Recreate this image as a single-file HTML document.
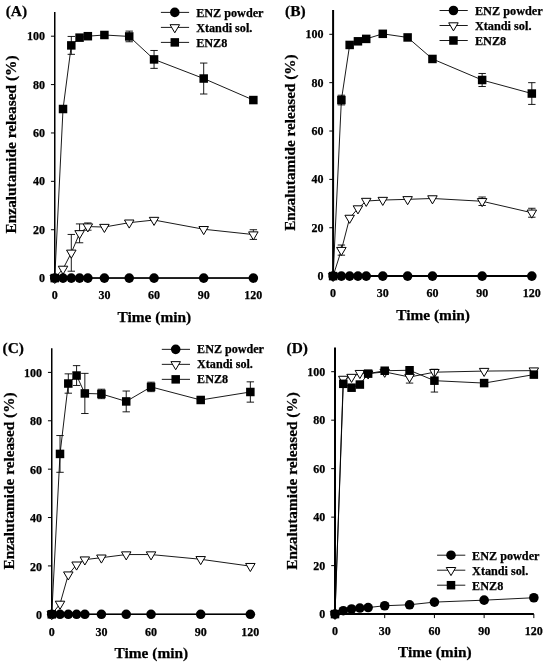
<!DOCTYPE html>
<html lang="en"><head><meta charset="utf-8"><title>Enzalutamide release profiles</title>
<style>
html,body{margin:0;padding:0;background:#fff}
svg{display:block}
svg text{font-family:"Liberation Serif",serif;font-weight:bold;fill:#000;stroke:#000;stroke-width:.25px}
</style></head><body>
<svg width="550" height="665" viewBox="0 0 550 665">
<rect width="550" height="665" fill="#fff"/>
<g id="panelA">
<path d="M54.75 12.01V278.1H253.35" stroke="#000" stroke-width="1.5" fill="none" stroke-linecap="butt" stroke-linejoin="miter"/>
<path d="M50.95 278.1h3.8M50.95 229.72h3.8M50.95 181.34h3.8M50.95 132.96h3.8M50.95 84.58h3.8M50.95 36.2h3.8M54.75 278.1v4M104.4 278.1v4M154.05 278.1v4M203.7 278.1v4M253.35 278.1v4" stroke="#000" stroke-width="1" fill="none"/>
<text x="45.05" y="282.2" text-anchor="end" font-size="12">0</text>
<text x="45.05" y="233.82" text-anchor="end" font-size="12">20</text>
<text x="45.05" y="185.44" text-anchor="end" font-size="12">40</text>
<text x="45.05" y="137.06" text-anchor="end" font-size="12">60</text>
<text x="45.05" y="88.68" text-anchor="end" font-size="12">80</text>
<text x="45.05" y="40.3" text-anchor="end" font-size="12">100</text>
<text x="54.75" y="299.4" text-anchor="middle" font-size="12">0</text>
<text x="104.4" y="299.4" text-anchor="middle" font-size="12">30</text>
<text x="154.05" y="299.4" text-anchor="middle" font-size="12">60</text>
<text x="203.7" y="299.4" text-anchor="middle" font-size="12">90</text>
<text x="253.35" y="299.4" text-anchor="middle" font-size="12">120</text>
<text x="154.35" y="321.5" text-anchor="middle" font-size="15.4">Time (min)</text>
<text transform="translate(16.45 144.46) rotate(-90)" text-anchor="middle" font-size="15.37">Enzalutamide released (%)</text>
<text x="5.7" y="15.8" font-size="15.4">(A)</text>
<polyline points="54.75,278.1 63.02,278.1 71.3,278.1 79.58,278.1 87.85,278.1 104.4,278.1 129.22,278.1 154.05,278.1 203.7,278.1 253.35,278.1" stroke="#000" stroke-width="0.9" fill="none"/>
<circle cx="54.75" cy="278.1" r="4.8" fill="#000"/>
<circle cx="63.02" cy="278.1" r="4.8" fill="#000"/>
<circle cx="71.3" cy="278.1" r="4.8" fill="#000"/>
<circle cx="79.58" cy="278.1" r="4.8" fill="#000"/>
<circle cx="87.85" cy="278.1" r="4.8" fill="#000"/>
<circle cx="104.4" cy="278.1" r="4.8" fill="#000"/>
<circle cx="129.22" cy="278.1" r="4.8" fill="#000"/>
<circle cx="154.05" cy="278.1" r="4.8" fill="#000"/>
<circle cx="203.7" cy="278.1" r="4.8" fill="#000"/>
<circle cx="253.35" cy="278.1" r="4.8" fill="#000"/>
<polyline points="54.75,278.1 63.02,268.91 71.3,252.82 79.58,233.35 87.85,226.58 104.4,227.06 129.22,222.7 154.05,220.04 203.7,229.24 253.35,234.56" stroke="#000" stroke-width="0.9" fill="none"/>
<path d="M71.3 234.44V271.21M67.6 234.44h7.4M67.6 271.21h7.4" stroke="#000" stroke-width="0.9" fill="none"/>
<path d="M79.58 223.91V242.78M75.88 223.91h7.4M75.88 242.78h7.4" stroke="#000" stroke-width="0.9" fill="none"/>
<path d="M87.85 222.95V230.2M84.15 222.95h7.4M84.15 230.2h7.4" stroke="#000" stroke-width="0.9" fill="none"/>
<path d="M253.35 229.72V239.4M249.65 229.72h7.4M249.65 239.4h7.4" stroke="#000" stroke-width="0.9" fill="none"/>
<path d="M50 275.4H59.5L54.75 283.5Z" fill="#fff" stroke="#000" stroke-width="1"/>
<path d="M58.27 266.21H67.78L63.02 274.31Z" fill="#fff" stroke="#000" stroke-width="1"/>
<path d="M66.55 250.12H76.05L71.3 258.22Z" fill="#fff" stroke="#000" stroke-width="1"/>
<path d="M74.83 230.65H84.33L79.58 238.75Z" fill="#fff" stroke="#000" stroke-width="1"/>
<path d="M83.1 223.88H92.6L87.85 231.98Z" fill="#fff" stroke="#000" stroke-width="1"/>
<path d="M99.65 224.36H109.15L104.4 232.46Z" fill="#fff" stroke="#000" stroke-width="1"/>
<path d="M124.47 220H133.97L129.22 228.1Z" fill="#fff" stroke="#000" stroke-width="1"/>
<path d="M149.3 217.34H158.8L154.05 225.44Z" fill="#fff" stroke="#000" stroke-width="1"/>
<path d="M198.95 226.54H208.45L203.7 234.64Z" fill="#fff" stroke="#000" stroke-width="1"/>
<path d="M248.6 231.86H258.1L253.35 239.96Z" fill="#fff" stroke="#000" stroke-width="1"/>
<polyline points="54.75,278.1 63.02,109.01 71.3,45.39 79.58,37.65 87.85,36.2 104.4,34.99 129.22,36.44 154.05,59.42 203.7,78.53 253.35,100.06" stroke="#000" stroke-width="0.9" fill="none"/>
<path d="M71.3 36.44V54.34M67.6 36.44h7.4M67.6 54.34h7.4" stroke="#000" stroke-width="0.9" fill="none"/>
<path d="M129.22 31.12V41.76M125.52 31.12h7.4M125.52 41.76h7.4" stroke="#000" stroke-width="0.9" fill="none"/>
<path d="M154.05 50.47V68.37M150.35 50.47h7.4M150.35 68.37h7.4" stroke="#000" stroke-width="0.9" fill="none"/>
<path d="M203.7 63.05V94.01M200 63.05h7.4M200 94.01h7.4" stroke="#000" stroke-width="0.9" fill="none"/>
<rect x="50.5" y="273.85" width="8.5" height="8.5" fill="#000"/>
<rect x="58.77" y="104.76" width="8.5" height="8.5" fill="#000"/>
<rect x="67.05" y="41.14" width="8.5" height="8.5" fill="#000"/>
<rect x="75.33" y="33.4" width="8.5" height="8.5" fill="#000"/>
<rect x="83.6" y="31.95" width="8.5" height="8.5" fill="#000"/>
<rect x="100.15" y="30.74" width="8.5" height="8.5" fill="#000"/>
<rect x="124.97" y="32.19" width="8.5" height="8.5" fill="#000"/>
<rect x="149.8" y="55.17" width="8.5" height="8.5" fill="#000"/>
<rect x="199.45" y="74.28" width="8.5" height="8.5" fill="#000"/>
<rect x="249.1" y="95.81" width="8.5" height="8.5" fill="#000"/>
<path d="M160.9 12.4h28.2" stroke="#000" stroke-width="0.9"/>
<circle cx="174.8" cy="12.4" r="4.8" fill="#000"/>
<text x="196.2" y="17" font-size="12.18">ENZ powder</text>
<path d="M160.9 27.4h28.2" stroke="#000" stroke-width="0.9"/>
<path d="M170.05 24.7H179.55L174.8 32.8Z" fill="#fff" stroke="#000" stroke-width="1"/>
<text x="196.2" y="31.9" font-size="12.18">Xtandi sol.</text>
<path d="M160.9 42.4h28.2" stroke="#000" stroke-width="0.9"/>
<rect x="170.55" y="38.15" width="8.5" height="8.5" fill="#000"/>
<text x="196.2" y="46.8" font-size="12.18">ENZ8</text>
</g>
<g id="panelB">
<path d="M333.1 10.12V276.1H531.82" stroke="#000" stroke-width="2" fill="none" stroke-linecap="butt" stroke-linejoin="miter"/>
<path d="M329.3 276.1h3.8M329.3 227.74h3.8M329.3 179.38h3.8M329.3 131.02h3.8M329.3 82.66h3.8M329.3 34.3h3.8M333.1 276.1v4M382.78 276.1v4M432.46 276.1v4M482.14 276.1v4M531.82 276.1v4" stroke="#000" stroke-width="1" fill="none"/>
<text x="323.4" y="280.2" text-anchor="end" font-size="12">0</text>
<text x="323.4" y="231.84" text-anchor="end" font-size="12">20</text>
<text x="323.4" y="183.48" text-anchor="end" font-size="12">40</text>
<text x="323.4" y="135.12" text-anchor="end" font-size="12">60</text>
<text x="323.4" y="86.76" text-anchor="end" font-size="12">80</text>
<text x="323.4" y="38.4" text-anchor="end" font-size="12">100</text>
<text x="333.1" y="297.4" text-anchor="middle" font-size="12">0</text>
<text x="382.78" y="297.4" text-anchor="middle" font-size="12">30</text>
<text x="432.46" y="297.4" text-anchor="middle" font-size="12">60</text>
<text x="482.14" y="297.4" text-anchor="middle" font-size="12">90</text>
<text x="531.82" y="297.4" text-anchor="middle" font-size="12">120</text>
<text x="433.06" y="319.5" text-anchor="middle" font-size="15.4">Time (min)</text>
<text transform="translate(294.8 142.61) rotate(-90)" text-anchor="middle" font-size="15.23">Enzalutamide released (%)</text>
<text x="285" y="16" font-size="15.4">(B)</text>
<polyline points="333.1,276.1 341.38,276.1 349.66,276.1 357.94,276.1 366.22,276.1 382.78,276.1 407.62,276.1 432.46,276.1 482.14,276.1 531.82,276.1" stroke="#000" stroke-width="0.9" fill="none"/>
<circle cx="333.1" cy="276.1" r="4.8" fill="#000"/>
<circle cx="341.38" cy="276.1" r="4.8" fill="#000"/>
<circle cx="349.66" cy="276.1" r="4.8" fill="#000"/>
<circle cx="357.94" cy="276.1" r="4.8" fill="#000"/>
<circle cx="366.22" cy="276.1" r="4.8" fill="#000"/>
<circle cx="382.78" cy="276.1" r="4.8" fill="#000"/>
<circle cx="407.62" cy="276.1" r="4.8" fill="#000"/>
<circle cx="432.46" cy="276.1" r="4.8" fill="#000"/>
<circle cx="482.14" cy="276.1" r="4.8" fill="#000"/>
<circle cx="531.82" cy="276.1" r="4.8" fill="#000"/>
<polyline points="333.1,276.1 341.38,250.11 349.66,217.95 357.94,208.52 366.22,201.02 382.78,200.05 407.62,199.33 432.46,198.48 482.14,201.26 531.82,212.75" stroke="#000" stroke-width="0.9" fill="none"/>
<path d="M341.38 245.03V255.18M337.68 245.03h7.4M337.68 255.18h7.4" stroke="#000" stroke-width="0.9" fill="none"/>
<path d="M482.14 197.03V205.49M478.44 197.03h7.4M478.44 205.49h7.4" stroke="#000" stroke-width="0.9" fill="none"/>
<path d="M531.82 208.28V217.22M528.12 208.28h7.4M528.12 217.22h7.4" stroke="#000" stroke-width="0.9" fill="none"/>
<path d="M328.35 273.4H337.85L333.1 281.5Z" fill="#fff" stroke="#000" stroke-width="1"/>
<path d="M336.63 247.41H346.13L341.38 255.51Z" fill="#fff" stroke="#000" stroke-width="1"/>
<path d="M344.91 215.25H354.41L349.66 223.35Z" fill="#fff" stroke="#000" stroke-width="1"/>
<path d="M353.19 205.82H362.69L357.94 213.92Z" fill="#fff" stroke="#000" stroke-width="1"/>
<path d="M361.47 198.32H370.97L366.22 206.42Z" fill="#fff" stroke="#000" stroke-width="1"/>
<path d="M378.03 197.35H387.53L382.78 205.45Z" fill="#fff" stroke="#000" stroke-width="1"/>
<path d="M402.87 196.63H412.37L407.62 204.73Z" fill="#fff" stroke="#000" stroke-width="1"/>
<path d="M427.71 195.78H437.21L432.46 203.88Z" fill="#fff" stroke="#000" stroke-width="1"/>
<path d="M477.39 198.56H486.89L482.14 206.66Z" fill="#fff" stroke="#000" stroke-width="1"/>
<path d="M527.07 210.05H536.57L531.82 218.15Z" fill="#fff" stroke="#000" stroke-width="1"/>
<polyline points="333.1,276.1 341.38,100.07 349.66,44.94 357.94,41.31 366.22,38.89 382.78,33.82 407.62,37.44 432.46,58.96 482.14,80 531.82,93.54" stroke="#000" stroke-width="0.9" fill="none"/>
<path d="M341.38 95.23V104.91M337.68 95.23h7.4M337.68 104.91h7.4" stroke="#000" stroke-width="0.9" fill="none"/>
<path d="M482.14 73.47V86.53M478.44 73.47h7.4M478.44 86.53h7.4" stroke="#000" stroke-width="0.9" fill="none"/>
<path d="M531.82 82.66V104.42M528.12 82.66h7.4M528.12 104.42h7.4" stroke="#000" stroke-width="0.9" fill="none"/>
<rect x="328.85" y="271.85" width="8.5" height="8.5" fill="#000"/>
<rect x="337.13" y="95.82" width="8.5" height="8.5" fill="#000"/>
<rect x="345.41" y="40.69" width="8.5" height="8.5" fill="#000"/>
<rect x="353.69" y="37.06" width="8.5" height="8.5" fill="#000"/>
<rect x="361.97" y="34.64" width="8.5" height="8.5" fill="#000"/>
<rect x="378.53" y="29.57" width="8.5" height="8.5" fill="#000"/>
<rect x="403.37" y="33.19" width="8.5" height="8.5" fill="#000"/>
<rect x="428.21" y="54.71" width="8.5" height="8.5" fill="#000"/>
<rect x="477.89" y="75.75" width="8.5" height="8.5" fill="#000"/>
<rect x="527.57" y="89.29" width="8.5" height="8.5" fill="#000"/>
<path d="M439.55 10.5h28.2" stroke="#000" stroke-width="0.9"/>
<circle cx="453.45" cy="10.5" r="4.8" fill="#000"/>
<text x="474.9" y="15.3" font-size="12.27">ENZ powder</text>
<path d="M439.55 25.5h28.2" stroke="#000" stroke-width="0.9"/>
<path d="M448.7 22.8H458.2L453.45 30.9Z" fill="#fff" stroke="#000" stroke-width="1"/>
<text x="474.9" y="30.3" font-size="12.27">Xtandi sol.</text>
<path d="M439.55 40.5h28.2" stroke="#000" stroke-width="0.9"/>
<rect x="449.2" y="36.25" width="8.5" height="8.5" fill="#000"/>
<text x="474.9" y="45.3" font-size="12.27">ENZ8</text>
</g>
<g id="panelC">
<path d="M51.75 348.21V614.3H250.35" stroke="#000" stroke-width="1.5" fill="none" stroke-linecap="butt" stroke-linejoin="miter"/>
<path d="M47.95 614.3h3.8M47.95 565.92h3.8M47.95 517.54h3.8M47.95 469.16h3.8M47.95 420.78h3.8M47.95 372.4h3.8M51.75 614.3v4M101.4 614.3v4M151.05 614.3v4M200.7 614.3v4M250.35 614.3v4" stroke="#000" stroke-width="1" fill="none"/>
<text x="42.05" y="618.9" text-anchor="end" font-size="12">0</text>
<text x="42.05" y="570.52" text-anchor="end" font-size="12">20</text>
<text x="42.05" y="522.14" text-anchor="end" font-size="12">40</text>
<text x="42.05" y="473.76" text-anchor="end" font-size="12">60</text>
<text x="42.05" y="425.38" text-anchor="end" font-size="12">80</text>
<text x="42.05" y="377" text-anchor="end" font-size="12">100</text>
<text x="51.75" y="635.6" text-anchor="middle" font-size="12">0</text>
<text x="101.4" y="635.6" text-anchor="middle" font-size="12">30</text>
<text x="151.05" y="635.6" text-anchor="middle" font-size="12">60</text>
<text x="200.7" y="635.6" text-anchor="middle" font-size="12">90</text>
<text x="250.35" y="635.6" text-anchor="middle" font-size="12">120</text>
<text x="151.35" y="657.7" text-anchor="middle" font-size="15.4">Time (min)</text>
<text transform="translate(14.2 480.95) rotate(-90)" text-anchor="middle" font-size="15.27">Enzalutamide released (%)</text>
<text x="2.5" y="353.3" font-size="15.4">(C)</text>
<polyline points="51.75,614.3 60.02,614.3 68.3,614.3 76.58,614.3 84.85,614.3 101.4,614.3 126.22,614.3 151.05,614.3 200.7,614.3 250.35,614.3" stroke="#000" stroke-width="0.9" fill="none"/>
<circle cx="51.75" cy="614.3" r="4.8" fill="#000"/>
<circle cx="60.02" cy="614.3" r="4.8" fill="#000"/>
<circle cx="68.3" cy="614.3" r="4.8" fill="#000"/>
<circle cx="76.58" cy="614.3" r="4.8" fill="#000"/>
<circle cx="84.85" cy="614.3" r="4.8" fill="#000"/>
<circle cx="101.4" cy="614.3" r="4.8" fill="#000"/>
<circle cx="126.22" cy="614.3" r="4.8" fill="#000"/>
<circle cx="151.05" cy="614.3" r="4.8" fill="#000"/>
<circle cx="200.7" cy="614.3" r="4.8" fill="#000"/>
<circle cx="250.35" cy="614.3" r="4.8" fill="#000"/>
<polyline points="51.75,614.3 60.02,603.9 68.3,574.63 76.58,564.71 84.85,559.63 101.4,557.7 126.22,554.55 151.05,554.55 200.7,559.27 250.35,566.16" stroke="#000" stroke-width="0.9" fill="none"/>
<path d="M47 611.6H56.5L51.75 619.7Z" fill="#fff" stroke="#000" stroke-width="1"/>
<path d="M55.27 601.2H64.78L60.02 609.3Z" fill="#fff" stroke="#000" stroke-width="1"/>
<path d="M63.55 571.93H73.05L68.3 580.03Z" fill="#fff" stroke="#000" stroke-width="1"/>
<path d="M71.83 562.01H81.33L76.58 570.11Z" fill="#fff" stroke="#000" stroke-width="1"/>
<path d="M80.1 556.93H89.6L84.85 565.03Z" fill="#fff" stroke="#000" stroke-width="1"/>
<path d="M96.65 555H106.15L101.4 563.1Z" fill="#fff" stroke="#000" stroke-width="1"/>
<path d="M121.47 551.85H130.97L126.22 559.95Z" fill="#fff" stroke="#000" stroke-width="1"/>
<path d="M146.3 551.85H155.8L151.05 559.95Z" fill="#fff" stroke="#000" stroke-width="1"/>
<path d="M195.95 556.57H205.45L200.7 564.67Z" fill="#fff" stroke="#000" stroke-width="1"/>
<path d="M245.6 563.46H255.1L250.35 571.56Z" fill="#fff" stroke="#000" stroke-width="1"/>
<polyline points="51.75,614.3 60.02,453.92 68.3,383.53 76.58,375.54 84.85,393.45 101.4,393.93 126.22,401.43 151.05,386.91 200.7,399.98 250.35,391.99" stroke="#000" stroke-width="0.9" fill="none"/>
<path d="M60.02 435.54V472.3M56.32 435.54h7.4M56.32 472.3h7.4" stroke="#000" stroke-width="0.9" fill="none"/>
<path d="M68.3 373.85V393.2M64.6 373.85h7.4M64.6 393.2h7.4" stroke="#000" stroke-width="0.9" fill="none"/>
<path d="M76.58 365.63V385.46M72.88 365.63h7.4M72.88 385.46h7.4" stroke="#000" stroke-width="0.9" fill="none"/>
<path d="M84.85 373.37V413.52M81.15 373.37h7.4M81.15 413.52h7.4" stroke="#000" stroke-width="0.9" fill="none"/>
<path d="M101.4 389.21V398.65M97.7 389.21h7.4M97.7 398.65h7.4" stroke="#000" stroke-width="0.9" fill="none"/>
<path d="M126.22 391.03V411.83M122.52 391.03h7.4M122.52 411.83h7.4" stroke="#000" stroke-width="0.9" fill="none"/>
<path d="M151.05 382.2V391.63M147.35 382.2h7.4M147.35 391.63h7.4" stroke="#000" stroke-width="0.9" fill="none"/>
<path d="M250.35 381.83V402.15M246.65 381.83h7.4M246.65 402.15h7.4" stroke="#000" stroke-width="0.9" fill="none"/>
<rect x="47.5" y="610.05" width="8.5" height="8.5" fill="#000"/>
<rect x="55.77" y="449.67" width="8.5" height="8.5" fill="#000"/>
<rect x="64.05" y="379.28" width="8.5" height="8.5" fill="#000"/>
<rect x="72.33" y="371.29" width="8.5" height="8.5" fill="#000"/>
<rect x="80.6" y="389.2" width="8.5" height="8.5" fill="#000"/>
<rect x="97.15" y="389.68" width="8.5" height="8.5" fill="#000"/>
<rect x="121.97" y="397.18" width="8.5" height="8.5" fill="#000"/>
<rect x="146.8" y="382.66" width="8.5" height="8.5" fill="#000"/>
<rect x="196.45" y="395.73" width="8.5" height="8.5" fill="#000"/>
<rect x="246.1" y="387.74" width="8.5" height="8.5" fill="#000"/>
<path d="M161.8 349.35h28.2" stroke="#000" stroke-width="0.9"/>
<circle cx="175.7" cy="349.35" r="4.8" fill="#000"/>
<text x="197.1" y="353.2" font-size="12.1">ENZ powder</text>
<path d="M161.8 364.35h28.2" stroke="#000" stroke-width="0.9"/>
<path d="M170.95 361.65H180.45L175.7 369.75Z" fill="#fff" stroke="#000" stroke-width="1"/>
<text x="197.1" y="368.1" font-size="12.1">Xtandi sol.</text>
<path d="M161.8 379.35h28.2" stroke="#000" stroke-width="0.9"/>
<rect x="171.45" y="375.1" width="8.5" height="8.5" fill="#000"/>
<text x="197.1" y="383" font-size="12.1">ENZ8</text>
</g>
<g id="panelD">
<path d="M335 347.46V614.1H533.84" stroke="#000" stroke-width="2" fill="none" stroke-linecap="butt" stroke-linejoin="miter"/>
<path d="M331.2 614.1h3.8M331.2 565.62h3.8M331.2 517.14h3.8M331.2 468.66h3.8M331.2 420.18h3.8M331.2 371.7h3.8M335 614.1v4M384.71 614.1v4M434.42 614.1v4M484.13 614.1v4M533.84 614.1v4" stroke="#000" stroke-width="1" fill="none"/>
<text x="325.3" y="618.2" text-anchor="end" font-size="12">0</text>
<text x="325.3" y="569.72" text-anchor="end" font-size="12">20</text>
<text x="325.3" y="521.24" text-anchor="end" font-size="12">40</text>
<text x="325.3" y="472.76" text-anchor="end" font-size="12">60</text>
<text x="325.3" y="424.28" text-anchor="end" font-size="12">80</text>
<text x="325.3" y="375.8" text-anchor="end" font-size="12">100</text>
<text x="335" y="634.8" text-anchor="middle" font-size="12">0</text>
<text x="384.71" y="634.8" text-anchor="middle" font-size="12">30</text>
<text x="434.42" y="634.8" text-anchor="middle" font-size="12">60</text>
<text x="484.13" y="634.8" text-anchor="middle" font-size="12">90</text>
<text x="533.84" y="634.8" text-anchor="middle" font-size="12">120</text>
<text x="434.82" y="656.8" text-anchor="middle" font-size="15.4">Time (min)</text>
<text transform="translate(296.7 480.93) rotate(-90)" text-anchor="middle" font-size="15.32">Enzalutamide released (%)</text>
<text x="286.5" y="353.3" font-size="15.4">(D)</text>
<polyline points="335,614.1 343.29,610.71 351.57,609.01 359.86,608.04 368.14,607.56 384.71,605.74 409.56,604.77 434.42,602.1 484.13,600.16 533.84,597.74" stroke="#000" stroke-width="0.9" fill="none"/>
<circle cx="335" cy="614.1" r="4.8" fill="#000"/>
<circle cx="343.29" cy="610.71" r="4.8" fill="#000"/>
<circle cx="351.57" cy="609.01" r="4.8" fill="#000"/>
<circle cx="359.86" cy="608.04" r="4.8" fill="#000"/>
<circle cx="368.14" cy="607.56" r="4.8" fill="#000"/>
<circle cx="384.71" cy="605.74" r="4.8" fill="#000"/>
<circle cx="409.56" cy="604.77" r="4.8" fill="#000"/>
<circle cx="434.42" cy="602.1" r="4.8" fill="#000"/>
<circle cx="484.13" cy="600.16" r="4.8" fill="#000"/>
<circle cx="533.84" cy="597.74" r="4.8" fill="#000"/>
<polyline points="335,614.1 343.29,378.97 351.57,377.03 359.86,373.15 368.14,373.64 384.71,371.94 409.56,377.03 434.42,372.18 484.13,371.09 533.84,370.61" stroke="#000" stroke-width="0.9" fill="none"/>
<path d="M409.56 370.97V383.09M405.87 370.97h7.4M405.87 383.09h7.4" stroke="#000" stroke-width="0.9" fill="none"/>
<path d="M330.25 611.4H339.75L335 619.5Z" fill="#fff" stroke="#000" stroke-width="1"/>
<path d="M338.54 376.27H348.04L343.29 384.37Z" fill="#fff" stroke="#000" stroke-width="1"/>
<path d="M346.82 374.33H356.32L351.57 382.43Z" fill="#fff" stroke="#000" stroke-width="1"/>
<path d="M355.11 370.45H364.61L359.86 378.55Z" fill="#fff" stroke="#000" stroke-width="1"/>
<path d="M363.39 370.94H372.89L368.14 379.04Z" fill="#fff" stroke="#000" stroke-width="1"/>
<path d="M379.96 369.24H389.46L384.71 377.34Z" fill="#fff" stroke="#000" stroke-width="1"/>
<path d="M404.81 374.33H414.31L409.56 382.43Z" fill="#fff" stroke="#000" stroke-width="1"/>
<path d="M429.67 369.48H439.17L434.42 377.58Z" fill="#fff" stroke="#000" stroke-width="1"/>
<path d="M479.38 368.39H488.88L484.13 376.49Z" fill="#fff" stroke="#000" stroke-width="1"/>
<path d="M529.09 367.91H538.59L533.84 376.01Z" fill="#fff" stroke="#000" stroke-width="1"/>
<polyline points="335,614.1 343.29,383.82 351.57,387.7 359.86,384.55 368.14,373.64 384.71,370.73 409.56,370.25 434.42,380.67 484.13,383.09 533.84,374.61" stroke="#000" stroke-width="0.9" fill="none"/>
<path d="M434.42 369.28V392.06M430.72 369.28h7.4M430.72 392.06h7.4" stroke="#000" stroke-width="0.9" fill="none"/>
<rect x="330.75" y="609.85" width="8.5" height="8.5" fill="#000"/>
<rect x="339.04" y="379.57" width="8.5" height="8.5" fill="#000"/>
<rect x="347.32" y="383.45" width="8.5" height="8.5" fill="#000"/>
<rect x="355.61" y="380.3" width="8.5" height="8.5" fill="#000"/>
<rect x="363.89" y="369.39" width="8.5" height="8.5" fill="#000"/>
<rect x="380.46" y="366.48" width="8.5" height="8.5" fill="#000"/>
<rect x="405.31" y="366" width="8.5" height="8.5" fill="#000"/>
<rect x="430.17" y="376.42" width="8.5" height="8.5" fill="#000"/>
<rect x="479.88" y="378.84" width="8.5" height="8.5" fill="#000"/>
<rect x="529.59" y="370.36" width="8.5" height="8.5" fill="#000"/>
<path d="M437.1 555.2h28.2" stroke="#000" stroke-width="0.9"/>
<circle cx="451" cy="555.2" r="4.8" fill="#000"/>
<text x="472.1" y="559.8" font-size="12.2">ENZ powder</text>
<path d="M437.1 570.2h28.2" stroke="#000" stroke-width="0.9"/>
<path d="M446.25 567.5H455.75L451 575.6Z" fill="#fff" stroke="#000" stroke-width="1"/>
<text x="472.1" y="574.75" font-size="12.2">Xtandi sol.</text>
<path d="M437.1 585.2h28.2" stroke="#000" stroke-width="0.9"/>
<rect x="446.75" y="580.95" width="8.5" height="8.5" fill="#000"/>
<text x="472.1" y="589.7" font-size="12.2">ENZ8</text>
</g>
</svg>
</body></html>
